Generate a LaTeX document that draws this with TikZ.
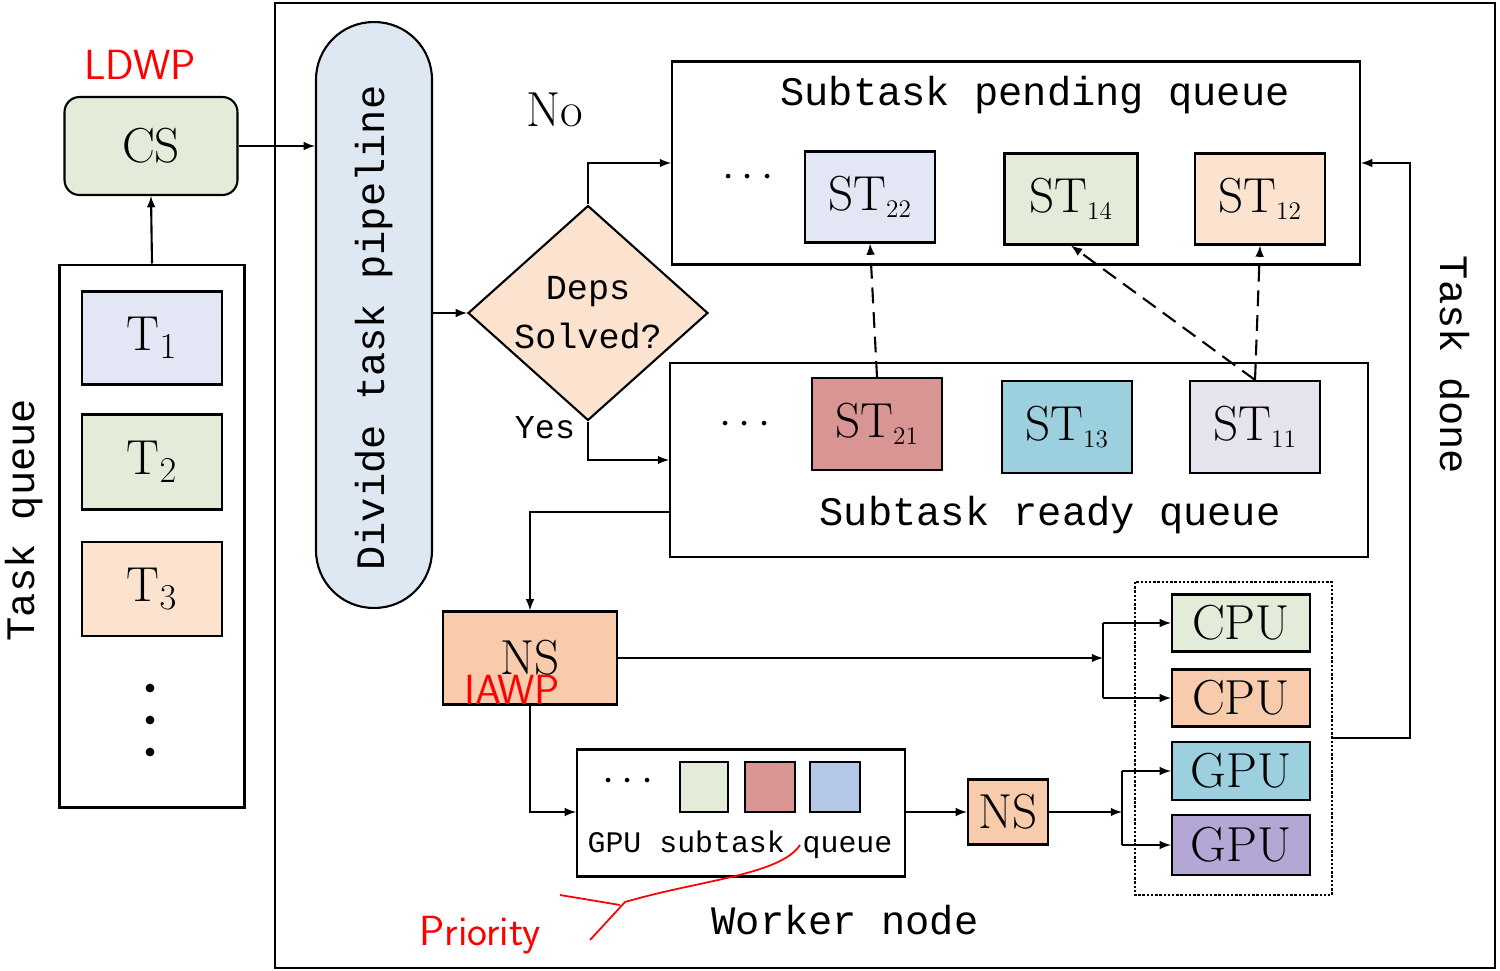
\documentclass[tikz,border=0pt]{standalone}
\usepackage{fontspec}
\newfontfamily\monofont{Liberation Mono}
\usetikzlibrary{shapes.geometric,positioning}
\definecolor{cgreen}{HTML}{E3ECD9}
\definecolor{clav}{HTML}{E3E6F4}
\definecolor{cpeach}{HTML}{FBE3CF}
\definecolor{corange}{HTML}{F7CBAC}
\definecolor{cred}{HTML}{D99594}
\definecolor{cblue}{HTML}{9DD0DE}
\definecolor{cgrey}{HTML}{E6E3EF}
\definecolor{cpipe}{HTML}{DDE8F3}
\definecolor{cpurp}{HTML}{B4A7D6}
\definecolor{csteel}{HTML}{B4C7E7}
\tikzstyle{box} = [draw, line width=1.2pt, rectangle, inner sep=0pt]
\tikzstyle{lbl} = [font=\fontsize{28}{30}\selectfont]
\tikzstyle{mlbl} = [font=\monofont\fontsize{23}{25}\selectfont]
\tikzstyle{hand} = [red, font=\fontsize{24}{26}\sffamily]
\tikzstyle{dep} = [->, dash pattern=on 9pt off 5pt]
\newcommand{\st}[1]{ST$_{\scriptscriptstyle #1}$}
\begin{document}
\begin{tikzpicture}[x=0.02cm, y=-0.02cm, >=latex, line width=1.2pt]
\useasboundingbox (0,0) rectangle (1500,970);

% outer worker node
\draw [line width=1.4pt] (275,3) rectangle (1495,968);
\node [mlbl] (worker) at (845,920) {Worker node};

% central scheduler and task queue
\node [box, rounded corners=.3cm, fill=cgreen, minimum width=3.46cm, minimum height=1.96cm, lbl] (cs) at (151,146) {CS};
\node [hand] (ldwp) at (140,65) {LDWP};
\node [box, minimum width=3.7cm, minimum height=10.86cm] (tq) at (152,536) {};
\node [mlbl, rotate=90] (tql) at (24,520) {Task queue};
\node [box, fill=clav, minimum width=2.8cm, minimum height=1.86cm, lbl] (t1) at (152,338) {T$_1$};
\node [box, fill=cgreen, minimum width=2.8cm, minimum height=1.9cm, lbl] (t2) at (152,462) {T$_2$};
\node [box, fill=cpeach, minimum width=2.8cm, minimum height=1.88cm, lbl] (t3) at (152,589) {T$_3$};
\foreach \y in {688,720,752} \fill (150,\y) circle (2.5pt);
\draw [->] (tq.north) -- (cs.south);

% pipeline
\node [box, rounded corners=1.15cm, fill=cpipe, minimum width=2.32cm, minimum height=11.72cm] (pipe) at (374,315) {};
\node [mlbl, rotate=90] (pipel) at (374,328) {Divide task pipeline};
\draw [->] (cs.east) -- (pipe.west |- cs.east);

% decision
\node [diamond, draw, fill=cpeach, minimum width=4.8cm, minimum height=4.3cm, inner sep=0pt, align=center, font=\monofont\fontsize{20}{28}\selectfont, aspect=1.1] (deps) at (588,313) {Deps\\Solved?};
\draw [->] (pipe.east |- deps.west) -- (deps.west);
\node [lbl] (no) at (555,110) {No};
\node [font=\monofont\fontsize{19}{20}\selectfont] (yes) at (545,428) {Yes};

% pending queue
\node [box, minimum width=13.76cm, minimum height=4.06cm] (pend) at (1016,163) {};
\node [mlbl] (pendl) at (1035,95) {Subtask pending queue};
\node [lbl] (pdots) at (748,178) {$\cdots$};
\node [box, fill=clav, minimum width=2.6cm, minimum height=1.82cm, lbl] (st22) at (870,197) {\st{22}};
\node [box, fill=cgreen, minimum width=2.66cm, minimum height=1.82cm, lbl] (st14) at (1071,199) {\st{14}};
\node [box, fill=cpeach, minimum width=2.6cm, minimum height=1.82cm, lbl] (st12) at (1260,199) {\st{12}};

% ready queue
\node [box, minimum width=13.96cm, minimum height=3.88cm] (ready) at (1019,460) {};
\node [mlbl] (readyl) at (1050,515) {Subtask ready queue};
\node [lbl] (rdots) at (745,425) {$\cdots$};
\node [box, fill=cred, minimum width=2.6cm, minimum height=1.84cm, lbl] (st21) at (877,424) {\st{21}};
\node [box, fill=cblue, minimum width=2.6cm, minimum height=1.84cm, lbl] (st13) at (1067,427) {\st{13}};
\node [box, fill=cgrey, minimum width=2.6cm, minimum height=1.84cm, lbl] (st11) at (1255,427) {\st{11}};

\draw [->] (deps.north) |- (pend.west |- 0,163);
\draw [->] (deps.south) |- (ready.west |- 0,460);
\draw [dep] (st21.north) -- (st22.south);
\draw [dep] (st11.north) -- (st14.south);
\draw [dep] (st11.north) -- (st12.south);

% node schedulers
\node [box, fill=corange, minimum width=3.48cm, minimum height=1.86cm, lbl] (ns) at (530,658) {NS};
\node [hand] (iawp) at (512,690) {IAWP};
\draw [->] (ready.west |- 0,512) -| (ns.north);

\node [box, minimum width=6.56cm, minimum height=2.54cm] (gq) at (741,813) {};
\node [font=\monofont\fontsize{17}{18}\selectfont] (gql) at (740,845) {GPU subtask queue};
\node [lbl] (gdots) at (628,782) {$\cdots$};
\node [box, fill=cgreen, minimum width=0.96cm, minimum height=1cm] (q1) at (704,787) {};
\node [box, fill=cred, minimum width=1cm, minimum height=1cm] (q2) at (770,787) {};
\node [box, fill=csteel, minimum width=1cm, minimum height=1cm] (q3) at (835,787) {};
\draw [->] (ns.south) |- (gq.west |- 0,812);

\node [box, fill=corange, minimum width=1.6cm, minimum height=1.3cm, lbl] (ns2) at (1008,812) {NS};
\draw [->] (gq.east |- ns2.west) -- (ns2.west);

% processors
\draw [densely dotted, line width=1.4pt] (1135,582) rectangle (1332,895);
\coordinate (pool) at (1332,738);
\node [box, fill=cgreen, minimum width=2.76cm, minimum height=1.14cm, lbl] (cpu1) at (1241,623) {CPU};
\node [box, fill=corange, minimum width=2.76cm, minimum height=1.14cm, lbl] (cpu2) at (1241,698) {CPU};
\node [box, fill=cblue, minimum width=2.76cm, minimum height=1.16cm, lbl] (gpu1) at (1241,771) {GPU};
\node [box, fill=cpurp, minimum width=2.76cm, minimum height=1.2cm, lbl] (gpu2) at (1241,845) {GPU};

\coordinate (cb) at (1103,658);
\draw [->] (ns.east) -- (cb);
\draw [->] (cb |- cpu1.west) -- (cpu1.west);
\draw [->] (cb |- cpu2.west) -- (cpu2.west);
\draw (cb |- cpu1.west) -- (cb |- cpu2.west);
\coordinate (gb) at (1122,812);
\draw [->] (ns2.east) -- (gb);
\draw [->] (gb |- gpu1.west) -- (gpu1.west);
\draw [->] (gb |- gpu2.west) -- (gpu2.west);
\draw (gb |- gpu1.west) -- (gb |- gpu2.west);

% task done
\draw [->] (pool) -- (1410,738) |- (pend.east |- 0,163);
\node [mlbl, rotate=-90] (done) at (1455,365) {Task done};

% annotation
\node [hand] (prio) at (480,935) {Priority};
\draw [red, line width=1pt] (560,895) -- (620,905) (590,940) -- (625,902) .. controls (700,880) and (780,875) .. (800,845);
\end{tikzpicture}
\end{document}
